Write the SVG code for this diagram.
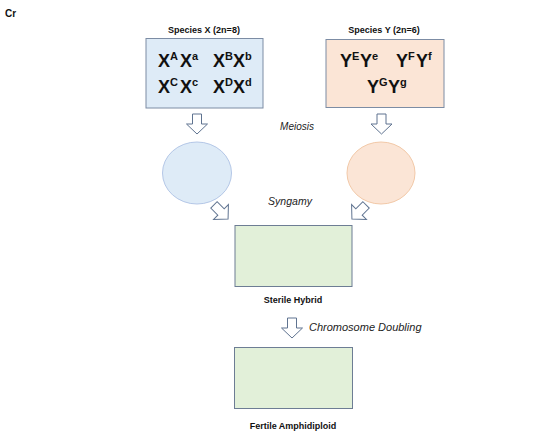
<svg xmlns="http://www.w3.org/2000/svg" xmlns:xlink="http://www.w3.org/1999/xlink" width="557" height="448" viewBox="0 0 557 448">
<style>
.lbl{font-family:"Liberation Sans",Arial,sans-serif;font-size:9px;font-weight:bold;fill:#111;text-anchor:middle}
.big{font-family:"Liberation Sans",Arial,sans-serif;font-size:18px;font-weight:bold;fill:#111}
.sup{font-family:"Liberation Sans",Arial,sans-serif;font-size:11px;font-weight:bold;fill:#111}
.it{font-family:"Liberation Sans",Arial,sans-serif;font-size:10px;font-style:italic;fill:#222}
.arr{fill:#fff;stroke:#5f7390;stroke-width:1;stroke-linejoin:miter}
</style>
<defs>
<path id="darr" class="arr" d="M-4.5,-10 H4.5 V0 H10.5 L0,10 L-10.5,0 H-4.5 Z"/>
</defs>
<rect width="557" height="448" fill="#fff"/>
<text x="5" y="17" style="font-family:'Liberation Sans',Arial,sans-serif;font-size:10px;font-weight:bold;fill:#111">Cr</text>

<g id="speciesX">
<text class="lbl" x="204" y="33">Species X (2n=8)</text>
<rect x="146" y="38.5" width="117" height="69.5" fill="#deebf7" stroke="#7c8ca4" stroke-width="1"/>
<text class="big" x="158" y="67">X</text><text class="sup" x="170" y="60">A</text>
<text class="big" x="180" y="67">X</text><text class="sup" x="192" y="60">a</text>
<text class="big" x="213" y="67">X</text><text class="sup" x="225" y="60">B</text>
<text class="big" x="233" y="67">X</text><text class="sup" x="245" y="60">b</text>
<text class="big" x="158" y="93">X</text><text class="sup" x="170" y="86">C</text>
<text class="big" x="180" y="93">X</text><text class="sup" x="192" y="86">c</text>
<text class="big" x="213" y="93">X</text><text class="sup" x="225" y="86">D</text>
<text class="big" x="233" y="93">X</text><text class="sup" x="245" y="86">d</text>
</g>

<g id="speciesY">
<text class="lbl" x="384" y="33">Species Y (2n=6)</text>
<rect x="326" y="39.5" width="118" height="68" fill="#fbe5d6" stroke="#7c8ca4" stroke-width="1"/>
<text class="big" x="340" y="67">Y</text><text class="sup" x="352" y="60">E</text>
<text class="big" x="360" y="67">Y</text><text class="sup" x="372" y="60">e</text>
<text class="big" x="396" y="67">Y</text><text class="sup" x="408" y="60">F</text>
<text class="big" x="416" y="67">Y</text><text class="sup" x="428" y="60">f</text>
<text class="big" x="367" y="93">Y</text><text class="sup" x="379" y="86">G</text>
<text class="big" x="388" y="93">Y</text><text class="sup" x="400" y="86">g</text>
</g>

<g id="gameteX"><ellipse cx="197" cy="173" rx="34.5" ry="31" fill="#deebf7" stroke="#b4c7e7" stroke-width="1"/></g>
<g id="gameteY"><ellipse cx="381" cy="173" rx="34" ry="31" fill="#fbe5d6" stroke="#f2c9a8" stroke-width="1"/></g>

<g id="sterileHybrid">
<rect x="235" y="225.5" width="117" height="61" fill="#e2f0d9" stroke="#6d7d94" stroke-width="1"/>
<text class="lbl" x="293" y="303">Sterile Hybrid</text>
</g>

<g id="fertileAmphidiploid">
<rect x="234.5" y="347.5" width="118" height="61" fill="#e2f0d9" stroke="#6d7d94" stroke-width="1"/>
<text class="lbl" x="293" y="429">Fertile Amphidiploid</text>
</g>

<g id="connectors">
<use xlink:href="#darr" transform="translate(197,124)"/>
<use xlink:href="#darr" transform="translate(381.5,124)"/>
<text class="it" x="297" y="130" text-anchor="middle">Meiosis</text>
<use xlink:href="#darr" transform="translate(221,212) rotate(-45)"/>
<use xlink:href="#darr" transform="translate(359,212) rotate(45)"/>
<text class="it" x="290" y="205" text-anchor="middle" style="font-size:10.5px">Syngamy</text>
<use xlink:href="#darr" transform="translate(292,328)"/>
<text class="it" x="309" y="331" style="font-size:11px">Chromosome Doubling</text>
</g>
</svg>
